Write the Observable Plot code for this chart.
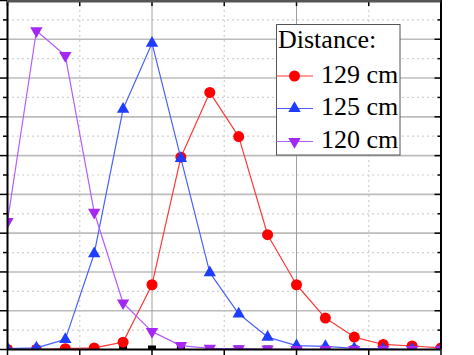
<!DOCTYPE html>
<html><head><meta charset="utf-8">
<script src="https://cdn.jsdelivr.net/npm/d3@7"></script>
<script src="https://cdn.jsdelivr.net/npm/@observablehq/plot@0.6"></script>
<style>
html,body{margin:0;padding:0;background:#fff;}
#wrap{position:relative;width:474px;height:355px;overflow:hidden;}
#legend{position:absolute;left:276px;top:24px;}
</style></head><body><div id="wrap"></div>
<script>
// x positions (sample index) and series values
const positions = [0,1,2,3,4,5,6,7,8,9,10,11,12,13,14,15];
const d129 = [0, 0, 0.02, 0.04, 0.19, 1.67, 4.96, 6.63, 5.49, 2.96, 1.67, 0.81, 0.32, 0.13, 0.09, 0.04];
const d125 = [0.02, 0.04, 0.26, 2.47, 6.2, 7.9, 4.93, 1.98, 0.92, 0.32, 0.1, 0.08, 0.03, 0.01, 0, 0];
const d120 = [3.3, 8.22, 7.58, 3.54, 1.2, 0.46, 0.1, 0.03, 0.02, 0.01, 0, 0, 0, 0, 0, 0];
const dBase = [0,0,0,0,0,0,0,0,0,0,0,0,0,0,0,0];
const seriesNames = ["129 cm", "125 cm", "120 cm"];
const legendTitle = "Distance:";
const majorY = [1,2,3,4,5,6,7,8];
const minorY = [0.5,1.5,2.5,3.5,4.5,5.5,6.5,7.5,8.5];
const majorX = [5,10];
const minorX = [2.5,7.5,12.5];
const allX = [0,2.5,5,7.5,10,12.5,15];

const rows = (vals) => positions.map((p,i) => ({x:p, y:vals[i]}));
const triDown = {draw(ctx, size){ const s3=Math.sqrt(3); const y=-Math.sqrt(size/(s3*3)); ctx.moveTo(0,-y*2); ctx.lineTo(-s3*y,y); ctx.lineTo(s3*y,y); ctx.closePath(); }};

const cRed="#ff0000", cRedL="#ff3838", cBlue="#1f3dff", cBlueL="#4b5fff", cPur="#a428f2", cPurL="#b65cff";
const noTxt = () => "";

const chart = Plot.plot({
  width: 474, height: 355,
  marginLeft: 7, marginRight: 33.5, marginTop: 0, marginBottom: 6,
  x: {domain: [0, 15], axis: null},
  y: {domain: [0, 9], axis: null},
  style: {background: "white"},
  marks: [
    Plot.gridY(minorY, {stroke:"#cfcfcf", strokeOpacity:1, strokeDasharray:"2,3", strokeWidth:1.2}),
    Plot.gridX(minorX, {stroke:"#cfcfcf", strokeOpacity:1, strokeDasharray:"2,3", strokeWidth:1.2}),
    Plot.gridY(majorY, {stroke:"#bcbcbc", strokeOpacity:1, strokeWidth:1.6}),
    Plot.gridX(majorX, {stroke:"#a0a0a0", strokeOpacity:1, strokeWidth:1}),
    Plot.dot(rows(dBase), {x:"x", y:"y", symbol:"square", r:4.5, fill:"#000", clip:true}),
    Plot.line(rows(d129), {x:"x", y:"y", stroke:cRedL, strokeWidth:1.2, clip:true}),
    Plot.dot(rows(d129), {x:"x", y:"y", symbol:"circle", r:5.5, fill:cRed, clip:true}),
    Plot.line(rows(d125), {x:"x", y:"y", stroke:cBlueL, strokeWidth:1.2, clip:true}),
    Plot.dot(rows(d125), {x:"x", y:"y", symbol:"triangle", r:4.6, fill:cBlue, clip:true}),
    Plot.line(rows(d120), {x:"x", y:"y", stroke:cPurL, strokeWidth:1.2, clip:true}),
    Plot.dot(rows(d120), {x:"x", y:"y", symbol:triDown, r:4.6, fill:cPur, clip:true}),
    Plot.axisY(majorY.concat([0,9]), {anchor:"left", tickSize:7, tickFormat:noTxt, label:null, stroke:"#000", strokeWidth:1.5}),
    Plot.axisY(minorY, {anchor:"left", tickSize:4, tickFormat:noTxt, label:null, stroke:"#000", strokeWidth:1.5}),
    Plot.axisY(majorY, {anchor:"right", tickSize:7, dx:-7, tickFormat:noTxt, label:null, stroke:"#000", strokeWidth:1.5}),
    Plot.axisY(minorY, {anchor:"right", tickSize:4, dx:-4, tickFormat:noTxt, label:null, stroke:"#000", strokeWidth:1.5}),
    Plot.axisX(allX, {anchor:"top", tickSize:5, dy:5, tickFormat:noTxt, label:null, stroke:"#000", strokeWidth:1.5}),
    Plot.axisX(allX, {anchor:"bottom", tickSize:6, tickFormat:noTxt, label:null, stroke:"#000", strokeWidth:1.5}),
    Plot.ruleX([0, 15], {stroke:"#000", strokeWidth:2}),
    Plot.ruleY([0], {stroke:"#000", strokeWidth:2}),
    Plot.ruleY([9], {stroke:"#555", strokeWidth:4})
  ]
});
const wrap = document.getElementById("wrap");
wrap.appendChild(chart);

// legend
const lg = d3.select(wrap).append("svg").attr("id","legend").attr("width",125).attr("height",132);
lg.append("rect").attr("x",0.5).attr("y",0.5).attr("width",123.5).attr("height",130.5).attr("fill","#fff").attr("stroke","#555").attr("stroke-width",1);
const ff = "'Liberation Serif', 'Times New Roman', serif";
lg.append("text").attr("x",2).attr("y",24).attr("font-family",ff).attr("font-size",26).attr("fill","#000").text(legendTitle);
const lcol = [[cRedL,cRed,d3.symbolCircle,5.5],[cBlueL,cBlue,d3.symbolTriangle,4.6],[cPurL,cPur,triDown,4.6]];
const rowY = [52, 84.5, 117.5];
seriesNames.forEach((n,i) => {
  const [lc, mc, sym, r] = lcol[i];
  lg.append("line").attr("x1",0).attr("x2",37).attr("y1",rowY[i]).attr("y2",rowY[i]).attr("stroke",lc).attr("stroke-width",1.2);
  lg.append("path").attr("transform",`translate(18.5,${rowY[i]})`).attr("d", d3.symbol(sym, Math.PI*r*r)()).attr("fill",mc);
  lg.append("text").attr("x",45).attr("y",rowY[i]+6.5).attr("font-family",ff).attr("font-size",26).attr("fill","#000").text(n);
});
</script>
</body></html>
